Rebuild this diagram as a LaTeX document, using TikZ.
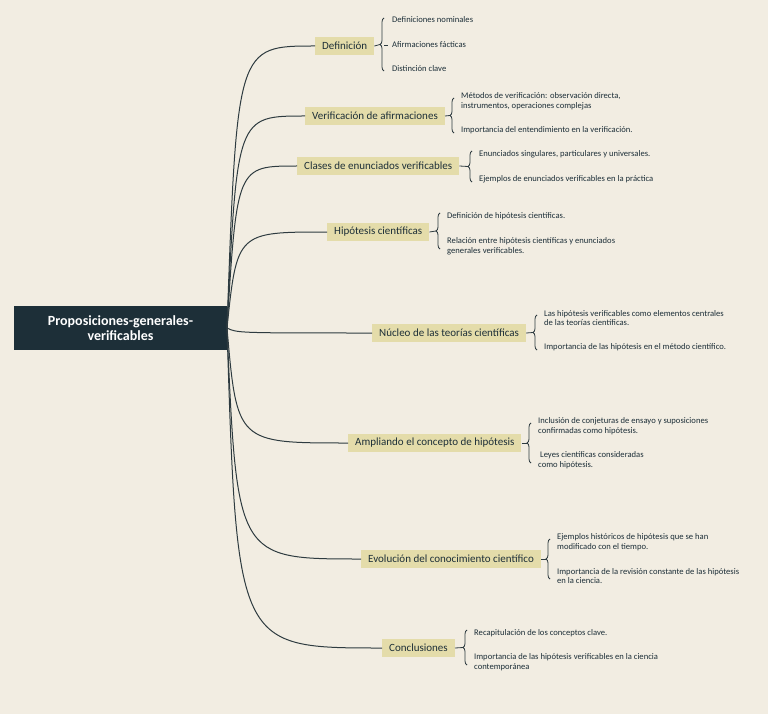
\documentclass[tikz,border=0pt]{standalone}
\usepackage{fontspec}
\setmainfont{Carlito}
\usetikzlibrary{decorations.pathreplacing}
\definecolor{bg}{HTML}{F2EDE2}
\definecolor{rootc}{HTML}{1D2F38}
\definecolor{br}{HTML}{E4DCAA}
\definecolor{ln}{HTML}{2E3B40}
\tikzset{
  branch/.style={fill=br,text=rootc,font=\fontsize{11}{12}\selectfont,inner xsep=7pt,inner ysep=0pt,minimum height=18pt,anchor=west},
  leaf/.style={font=\fontsize{8.6}{9.6}\selectfont,text=rootc,anchor=west,align=left,inner sep=0pt},
  conn/.style={draw=ln,line width=1pt},
  brc/.style={draw=ln,line width=0.8pt,decorate,decoration={brace,amplitude=4pt}}
}
\begin{document}
\begin{tikzpicture}[x=1pt,y=-1pt]
\fill[bg] (0,0) rectangle (768,714);
\useasboundingbox (0,0) rectangle (768,714);
\node[fill=rootc,text=white,font=\bfseries\fontsize{14}{15}\selectfont,align=center,minimum width=213pt,minimum height=44pt,inner sep=2pt] (root) at (120.5,328) {Proposiciones-generales-\\verificables};
% branches
\node[branch] (b1) at (315,46) {Definición};
\node[branch] (b2) at (305,116) {Verificación de afirmaciones};
\node[branch] (b3) at (297,166) {Clases de enunciados verificables};
\node[branch] (b4) at (327,232) {Hipótesis científicas};
\node[branch] (b5) at (372,333) {Núcleo de las teorías científicas};
\node[branch] (b6) at (348,443) {Ampliando el concepto de hipótesis};
\node[branch] (b7) at (361,559) {Evolución del conocimiento científico};
\node[branch] (b8) at (382,648) {Conclusiones};
\coordinate (r) at (227,328);
\foreach \b/\y in {b1/46,b2/116,b3/166,b4/232,b5/333,b6/443,b7/559,b8/648}{
  \draw[conn] (r) .. controls (237,\y) .. (\b.west);
}
% leaves
\node[leaf] (l11) at (392,20) {Definiciones nominales};
\node[leaf] (l12) at (392,45) {Afirmaciones fácticas};
\node[leaf] (l13) at (392,69) {Distinción clave};
\node[leaf] (l21) at (461,101) {Métodos de verificación: observación directa,\\instrumentos, operaciones complejas};
\node[leaf] (l22) at (461,130) {Importancia del entendimiento en la verificación.};
\node[leaf] (l31) at (479,154) {Enunciados singulares, particulares y universales.};
\node[leaf] (l32) at (479,179) {Ejemplos de enunciados verificables en la práctica};
\node[leaf] (l41) at (447,216) {Definición de hipótesis científicas.};
\node[leaf] (l42) at (447,246) {Relación entre hipótesis científicas y enunciados\\generales verificables.};
\node[leaf] (l51) at (544,318) {Las hipótesis verificables como elementos centrales\\de las teorías científicas.};
\node[leaf] (l52) at (544,347) {Importancia de las hipótesis en el método científico.};
\node[leaf] (l61) at (538,426) {Inclusión de conjeturas de ensayo y suposiciones\\confirmadas como hipótesis.};
\node[leaf] (l62) at (538,460) {\ Leyes científicas consideradas\\como hipótesis.};
\node[leaf] (l71) at (557,542) {Ejemplos históricos de hipótesis que se han\\modificado con el tiempo.};
\node[leaf] (l72) at (557,576) {Importancia de la revisión constante de las hipótesis\\en la ciencia.};
\node[leaf] (l81) at (474,633) {Recapitulación de los conceptos clave.};
\node[leaf] (l82) at (474,662) {Importancia de las hipótesis verificables en la ciencia\\contemporánea};
% braces: node, brace x, top y, bottom y
\foreach \b/\bx/\yt/\yb in {b1/380/18/71,b2/450/98/133,b3/468/151/182,b4/436/213/249,b5/533/315/350,b6/527/423/463,b7/546/539/579,b8/463/630/665}{
  \draw[brc] (\bx+4,\yb) -- (\bx+4,\yt);
  \draw[conn,line width=0.8pt] (\b.east) -- (\bx,{(\yt+\yb)/2});
}
\draw[conn,line width=0.8pt] (384,45) -- (388,45);
\end{tikzpicture}
\end{document}
